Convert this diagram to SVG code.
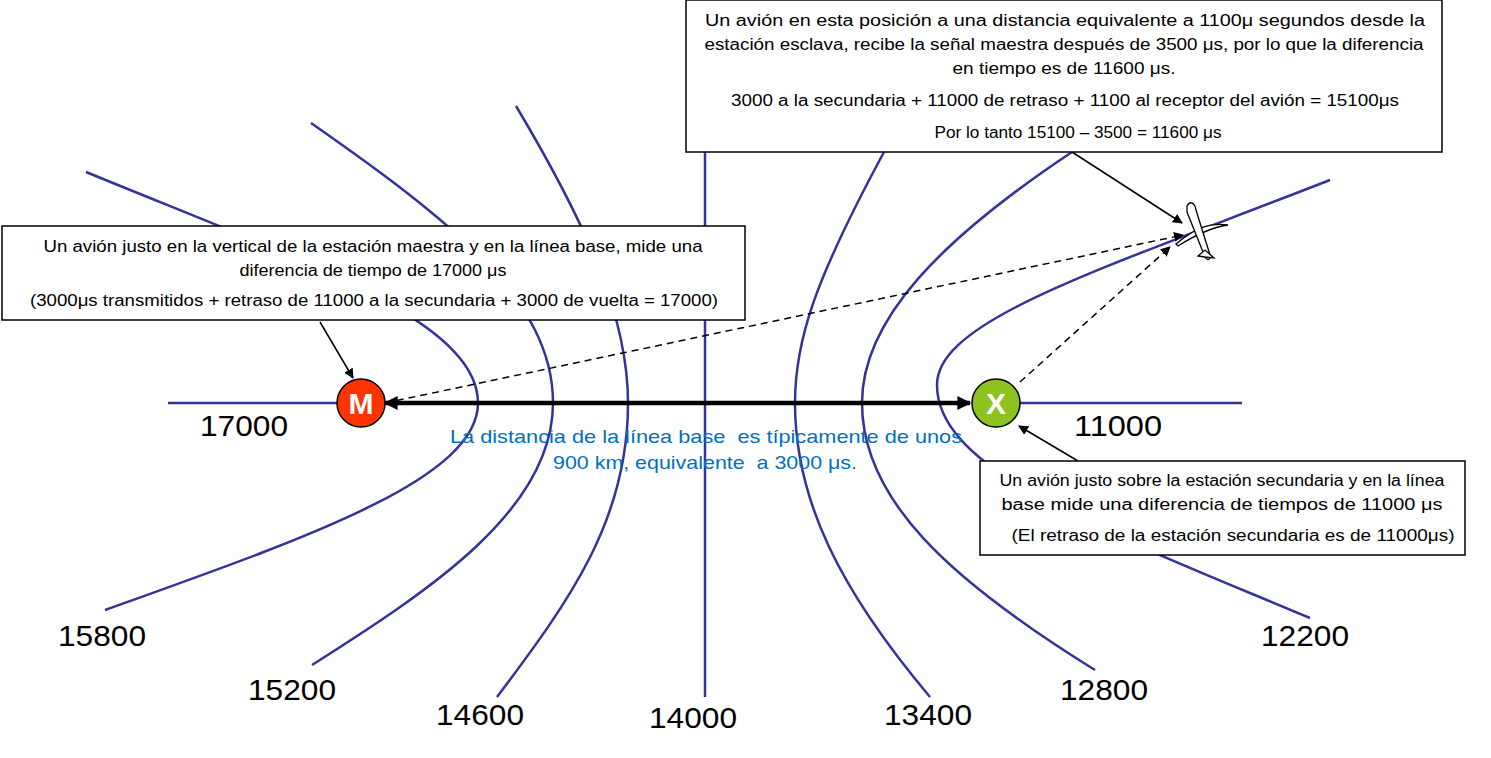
<svg xmlns="http://www.w3.org/2000/svg" width="1491" height="758" viewBox="0 0 1491 758">
<style>
.c{fill:none;stroke:#333399;stroke-width:2.5}
.b{fill:#fff;stroke:#000;stroke-width:1.5}
.t{font-family:"Liberation Sans",Arial,sans-serif;font-size:16px;fill:#000;text-anchor:middle}
.n{font-family:"Liberation Sans",Arial,sans-serif;font-size:30px;fill:#000;text-anchor:middle}
.a{stroke:#000;stroke-width:1.5;fill:none}
</style>
<defs>
<marker id="ah" viewBox="0 0 10 10" refX="9" refY="5" markerWidth="10" markerHeight="10" markerUnits="userSpaceOnUse" orient="auto-start-reverse"><path d="M0,0L10,5L0,10z" fill="#000"/></marker>
<marker id="ah2" viewBox="0 0 10 10" refX="9" refY="5" markerWidth="18" markerHeight="14" markerUnits="userSpaceOnUse" orient="auto-start-reverse"><path d="M0,0L10,5L0,10z" fill="#000"/></marker>
</defs>
<g id="curves">
<path class="c" d="M168,403H337"/>
<path class="c" d="M1020,403H1242"/>
<path class="c" d="M86,172C300,260 478,320 478,403C478,480 300,540 105,610"/>
<path class="c" d="M311,123C450,220 553,300 553,403C553,510 430,590 312,665"/>
<path class="c" d="M516,106C590,230 628,320 628,403C628,520 570,600 497,697"/>
<path class="c" d="M705,140V697"/>
<path class="c" d="M884,152C815,280 795,340 795,403C795,500 840,590 930,697"/>
<path class="c" d="M1072,152C940,240 862,320 862,403C862,500 950,580 1095,670"/>
<path class="c" d="M1330,180C1100,270 937,320 937,385C937,470 1100,530 1310,618"/>
</g>
<g id="labels">
<text class="n" x="244" y="436" textLength="88" lengthAdjust="spacingAndGlyphs">17000</text>
<text class="n" x="1118" y="436" textLength="88" lengthAdjust="spacingAndGlyphs">11000</text>
<text class="n" x="102" y="646" textLength="88" lengthAdjust="spacingAndGlyphs">15800</text>
<text class="n" x="292" y="700" textLength="88" lengthAdjust="spacingAndGlyphs">15200</text>
<text class="n" x="480" y="725" textLength="88" lengthAdjust="spacingAndGlyphs">14600</text>
<text class="n" x="693" y="728" textLength="88" lengthAdjust="spacingAndGlyphs">14000</text>
<text class="n" x="928" y="725" textLength="88" lengthAdjust="spacingAndGlyphs">13400</text>
<text class="n" x="1104" y="700" textLength="88" lengthAdjust="spacingAndGlyphs">12800</text>
<text class="n" x="1305" y="646" textLength="88" lengthAdjust="spacingAndGlyphs">12200</text>
<g font-family="Liberation Sans,Arial,sans-serif" font-size="19" fill="#0070C0" text-anchor="middle">
<text x="706" y="443" xml:space="preserve" textLength="512" lengthAdjust="spacingAndGlyphs">La distancia de la línea base  es típicamente de unos</text>
<text x="705" y="469" xml:space="preserve" textLength="304" lengthAdjust="spacingAndGlyphs">900 km, equivalente  a 3000 μs.</text>
</g>
</g>
<g id="connectors">
<line x1="385" y1="403" x2="970" y2="403" stroke="#000" stroke-width="4.5" marker-start="url(#ah2)" marker-end="url(#ah2)"/>
<line class="a" x1="385" y1="403" x2="1183" y2="235" stroke-dasharray="7,5" marker-end="url(#ah)"/>
<line class="a" x1="1020" y1="382" x2="1170" y2="247" stroke-dasharray="7,5" marker-end="url(#ah)"/>
<line class="a" x1="1072" y1="152" x2="1182" y2="223" marker-end="url(#ah)"/>
<line class="a" x1="320" y1="322" x2="353" y2="378" marker-end="url(#ah)"/>
<line class="a" x1="1078" y1="461" x2="1019" y2="426" marker-end="url(#ah)"/>
</g>
<g id="plane" fill="#fff" stroke="#000" stroke-width="1.3">
<path d="M1176,244C1195,228 1210,222 1228,225C1215,227 1200,232 1178,246z"/>
<path d="M1187,206C1190,200 1195,203 1196,210L1210,255C1211,260 1207,261 1205,257L1187,212z"/>
<path d="M1198,256L1205,250L1214,258L1205,257z"/>
</g>
<g id="M"><circle cx="361" cy="403" r="24" fill="#FF3300" stroke="#000" stroke-width="1.5"/><text x="361" y="414" font-family="Liberation Sans,Arial,sans-serif" font-size="30" font-weight="bold" fill="#fff" text-anchor="middle">M</text></g>
<g id="X"><circle cx="996" cy="403" r="24" fill="#8DC21F" stroke="#000" stroke-width="1.5"/><text x="996" y="414" font-family="Liberation Sans,Arial,sans-serif" font-size="30" font-weight="bold" fill="#fff" text-anchor="middle">X</text></g>
<g id="box-top"><rect class="b" x="686" y="0" width="756" height="152"/>
<text class="t" x="1065" y="26" textLength="720" lengthAdjust="spacingAndGlyphs">Un avión en esta posición a una distancia equivalente a 1100μ segundos desde la</text>
<text class="t" x="1064" y="50" textLength="719" lengthAdjust="spacingAndGlyphs">estación esclava, recibe la señal maestra después de 3500 μs, por lo que la diferencia</text>
<text class="t" x="1064" y="74" textLength="223" lengthAdjust="spacingAndGlyphs">en tiempo es de 11600 μs.</text>
<text class="t" x="1065" y="106" textLength="668" lengthAdjust="spacingAndGlyphs">3000 a la secundaria + 11000 de retraso + 1100 al receptor del avión = 15100μs</text>
<text class="t" x="1078" y="138" textLength="287" lengthAdjust="spacingAndGlyphs">Por lo tanto 15100 – 3500 = 11600 μs</text></g>
<g id="box-left"><rect class="b" x="2" y="226" width="743" height="94"/>
<text class="t" x="373" y="252" textLength="659" lengthAdjust="spacingAndGlyphs">Un avión justo en la vertical de la estación maestra y en la línea base, mide una</text>
<text class="t" x="373" y="276" textLength="267" lengthAdjust="spacingAndGlyphs">diferencia de tiempo de 17000 μs</text>
<text class="t" x="374" y="306" textLength="688" lengthAdjust="spacingAndGlyphs">(3000μs transmitidos + retraso de 11000 a la secundaria + 3000 de vuelta = 17000)</text></g>
<g id="box-right"><rect class="b" x="980" y="461" width="485" height="94"/>
<text class="t" x="1222" y="486" textLength="445" lengthAdjust="spacingAndGlyphs">Un avión justo sobre la estación secundaria y en la línea</text>
<text class="t" x="1222" y="510" textLength="441" lengthAdjust="spacingAndGlyphs">base mide una diferencia de tiempos de 11000 μs</text>
<text class="t" x="1233" y="541" textLength="443" lengthAdjust="spacingAndGlyphs">(El retraso de la estación secundaria es de 11000μs)</text></g>
</svg>
